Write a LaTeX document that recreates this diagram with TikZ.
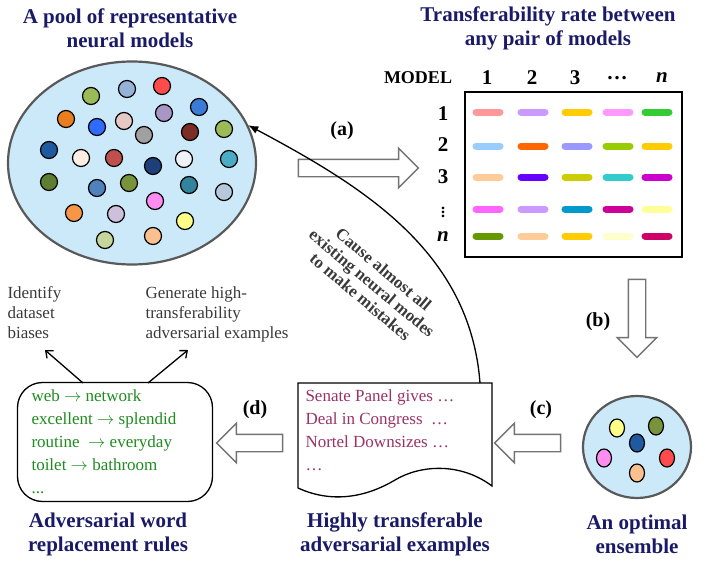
\documentclass[tikz,border=0pt]{standalone}
\usepackage{fontspec}
\setmainfont{Liberation Serif}
\usetikzlibrary{shapes.geometric,shapes.arrows,arrows.meta}
\definecolor{navy}{HTML}{1A1A66}
\definecolor{poolfill}{HTML}{CCE9F9}
\definecolor{txtgray}{HTML}{3A3A3A}
\definecolor{rulegreen}{HTML}{1E8B1E}
\definecolor{advpurple}{HTML}{993366}
\tikzset{
 title/.style={font=\fontsize{21}{24}\selectfont\bfseries,text=navy,align=center},
 pool/.style={ellipse,draw=black!65,line width=2.2pt,fill=poolfill},
 dot/.style={circle,draw=black,line width=1.2pt,minimum size=17pt,inner sep=0pt},
 bar/.style={line width=7pt,line cap=round},
 hol/.style={single arrow,draw=black!55,line width=1.4pt,fill=white,single arrow head extend=11pt,minimum height=#1,inner sep=8pt},
 lab/.style={font=\fontsize{20}{20}\selectfont\bfseries},
 hdr/.style={font=\fontsize{21}{22}\selectfont\bfseries},
 note/.style={font=\fontsize{17}{20}\selectfont,text=txtgray,align=left},
 rules/.style={font=\fontsize{17}{23}\selectfont,text=rulegreen,align=left},
 adv/.style={font=\fontsize{17}{23}\selectfont,text=advpurple,align=left},
}
\begin{document}
\begin{tikzpicture}[x=1pt,y=-1pt]
\useasboundingbox (0,0) rectangle (705,562);
% titles
\node[title] (t1) at (130,28) {A pool of representative\\neural models};
\node[title] (t2) at (548,28) {Transferability rate between\\any pair of models};
\node[title] (t3) at (108,534) {Adversarial word\\replacement rules};
\node[title] (t4) at (395,534) {Highly transferable\\adversarial examples};
\node[title] (t5) at (637,534) {An optimal\\ensemble};
% big pool
\node[pool,minimum width=248pt,minimum height=203pt] (pool) at (132,163) {};
\foreach \x/\y/\c [count=\i] in {91/96/9BBB59,127/89/95B3D7,162/86/FF4B4B,199/107/3A7BD5,66/119/E87E20,97/127/2F6BFF,124/121/E6C9C5,164/113/A896C4,144/135/A0A0A0,190/132/7B2D26,224/129/9BBB59,49/150/1F5AA0,81/158/FDEEE3,114/158/C0504D,153/166/1F3F7A,184/159/EEF2F7,229/159/4BACC6,49/182/5E7F31,97/188/4F81BD,129/183/77933C,155/201/FF8CF0,189/185/31849B,224/192/B8C8DC,74/213/F79646,116/214/CCC0DA,185/221/FFFF88,105/240/C4D79B,153/236/FAC090}
  {\definecolor{tmp}{HTML}{\c}\node[dot,fill=tmp] (p\i) at (\x,\y) {};}
% arrow a
\node[hol=120pt] (aa) at (354,168) {};
\node[lab] (la) at (342,131) {(a)};
% table
\node[hdr,font=\fontsize{18}{20}\selectfont\bfseries] (hm) at (418,78) {MODEL};
\foreach \t/\x [count=\i] in {1/487,2/532,3/575,\textbf{\dots}/617,\textit{n}/662}
  \node[hdr] (h\i) at (\x,78) {\t};
\draw[line width=1.6pt] (465,92) rectangle (682,257);
\foreach \t/\y [count=\i] in {1/114,2/145,3/177,\textit{n}/237}
  \node[hdr] (r\i) at (443,\y) {\t};
\node[hdr,font=\fontsize{16}{16}\selectfont\bfseries] (r4) at (443,209) {$\vdots$};
\foreach \y/\cs in {112/{FF9999,CC99FF,FFCC00,FF99FF,33CC33},146/{99CCFF,FF6600,9999FF,99CC00,FFCC00},177/{FFCC99,6600FF,CCCC00,33CCCC,CC00CC},209/{FF66FF,CC99FF,0099CC,CC0099,FFFF99},236/{669900,FFCC99,FFCC00,FFFFCC,CC0066}}{
  \foreach \c [count=\j] in \cs {
    \pgfmathsetmacro\xx{{488,533,577,618,657}[\j-1]}
    \definecolor{tmp}{HTML}{\c}
    \draw[bar,tmp] (\xx-12,\y) -- (\xx+12,\y);
  }}
% arrow b
\node[hol=78pt,rotate=-90] (ab) at (637,314) {};
\node[lab] (lb) at (598,322) {(b)};
% small ensemble
\node[pool,minimum width=108pt,minimum height=102pt] (ens) at (637,447) {};
\foreach \x/\y/\c [count=\i] in {617/428/FFFF88,656/426/77933C,637/443/1F5AA0,604/458/FF8CF0,667/458/FF4B4B,637/473/FAC090}
  {\definecolor{tmp}{HTML}{\c}\node[dot,ellipse,minimum width=15pt,minimum height=18pt,fill=tmp] (e\i) at (\x,\y) {};}
% arrow c
\node[hol=66pt,rotate=180] (ac) at (532,443) {};
\node[lab] (lc) at (541,410) {(c)};
% document
\draw[line width=1.3pt,fill=white] (298,383) -- (492,383) -- (492,486) .. controls (460,462) and (420,465) .. (395,480) .. controls (370,495) and (335,505) .. (298,488) -- cycle;
\node[adv,anchor=north west] (doc) at (302,386) {Senate Panel gives \dots\\Deal in Congress\ \ \dots\\Nortel Downsizes \dots\\\dots};
\coordinate (dtop) at (480,383);
\draw[-{Latex[length=10pt,width=8pt]},line width=1.3pt] (dtop) .. controls (470,250) and (360,185) .. (pool.18);
\node[note,font=\fontsize{17}{18}\selectfont\bfseries,rotate=-40,align=center] (cause) at (372,283) {Cause almost all\\existing neural modes\\to make mistakes};
% arrow d
\node[hol=66pt,rotate=180] (ad) at (254,443) {};
\node[lab] (ld) at (255,410) {(d)};
% rules box
\node[draw,line width=1.3pt,rounded corners=25pt,minimum width=195pt,minimum height=119pt] (box) at (115,442) {};
\node[rules,anchor=north west] (rl) at (28,386) {web $\rightarrow$ network\\excellent $\rightarrow$ splendid\\routine\ \ $\rightarrow$ everyday\\toilet $\rightarrow$ bathroom\\...};
\node[note,anchor=north west] (n1) at (4,283) {Identify\\dataset\\biases};
\node[note,anchor=north west] (n2) at (142,283) {Generate high-\\transferability\\adversarial examples};
\coordinate (b1) at (83,383);
\coordinate (b2) at (148,383);
\coordinate (c1) at (45,350);
\coordinate (c2) at (188,350);
\draw[-{Straight Barb[length=6pt,width=10pt]},line width=1.3pt] (b1) -- (c1);
\draw[-{Straight Barb[length=6pt,width=10pt]},line width=1.3pt] (b2) -- (c2);
\end{tikzpicture}
\end{document}
